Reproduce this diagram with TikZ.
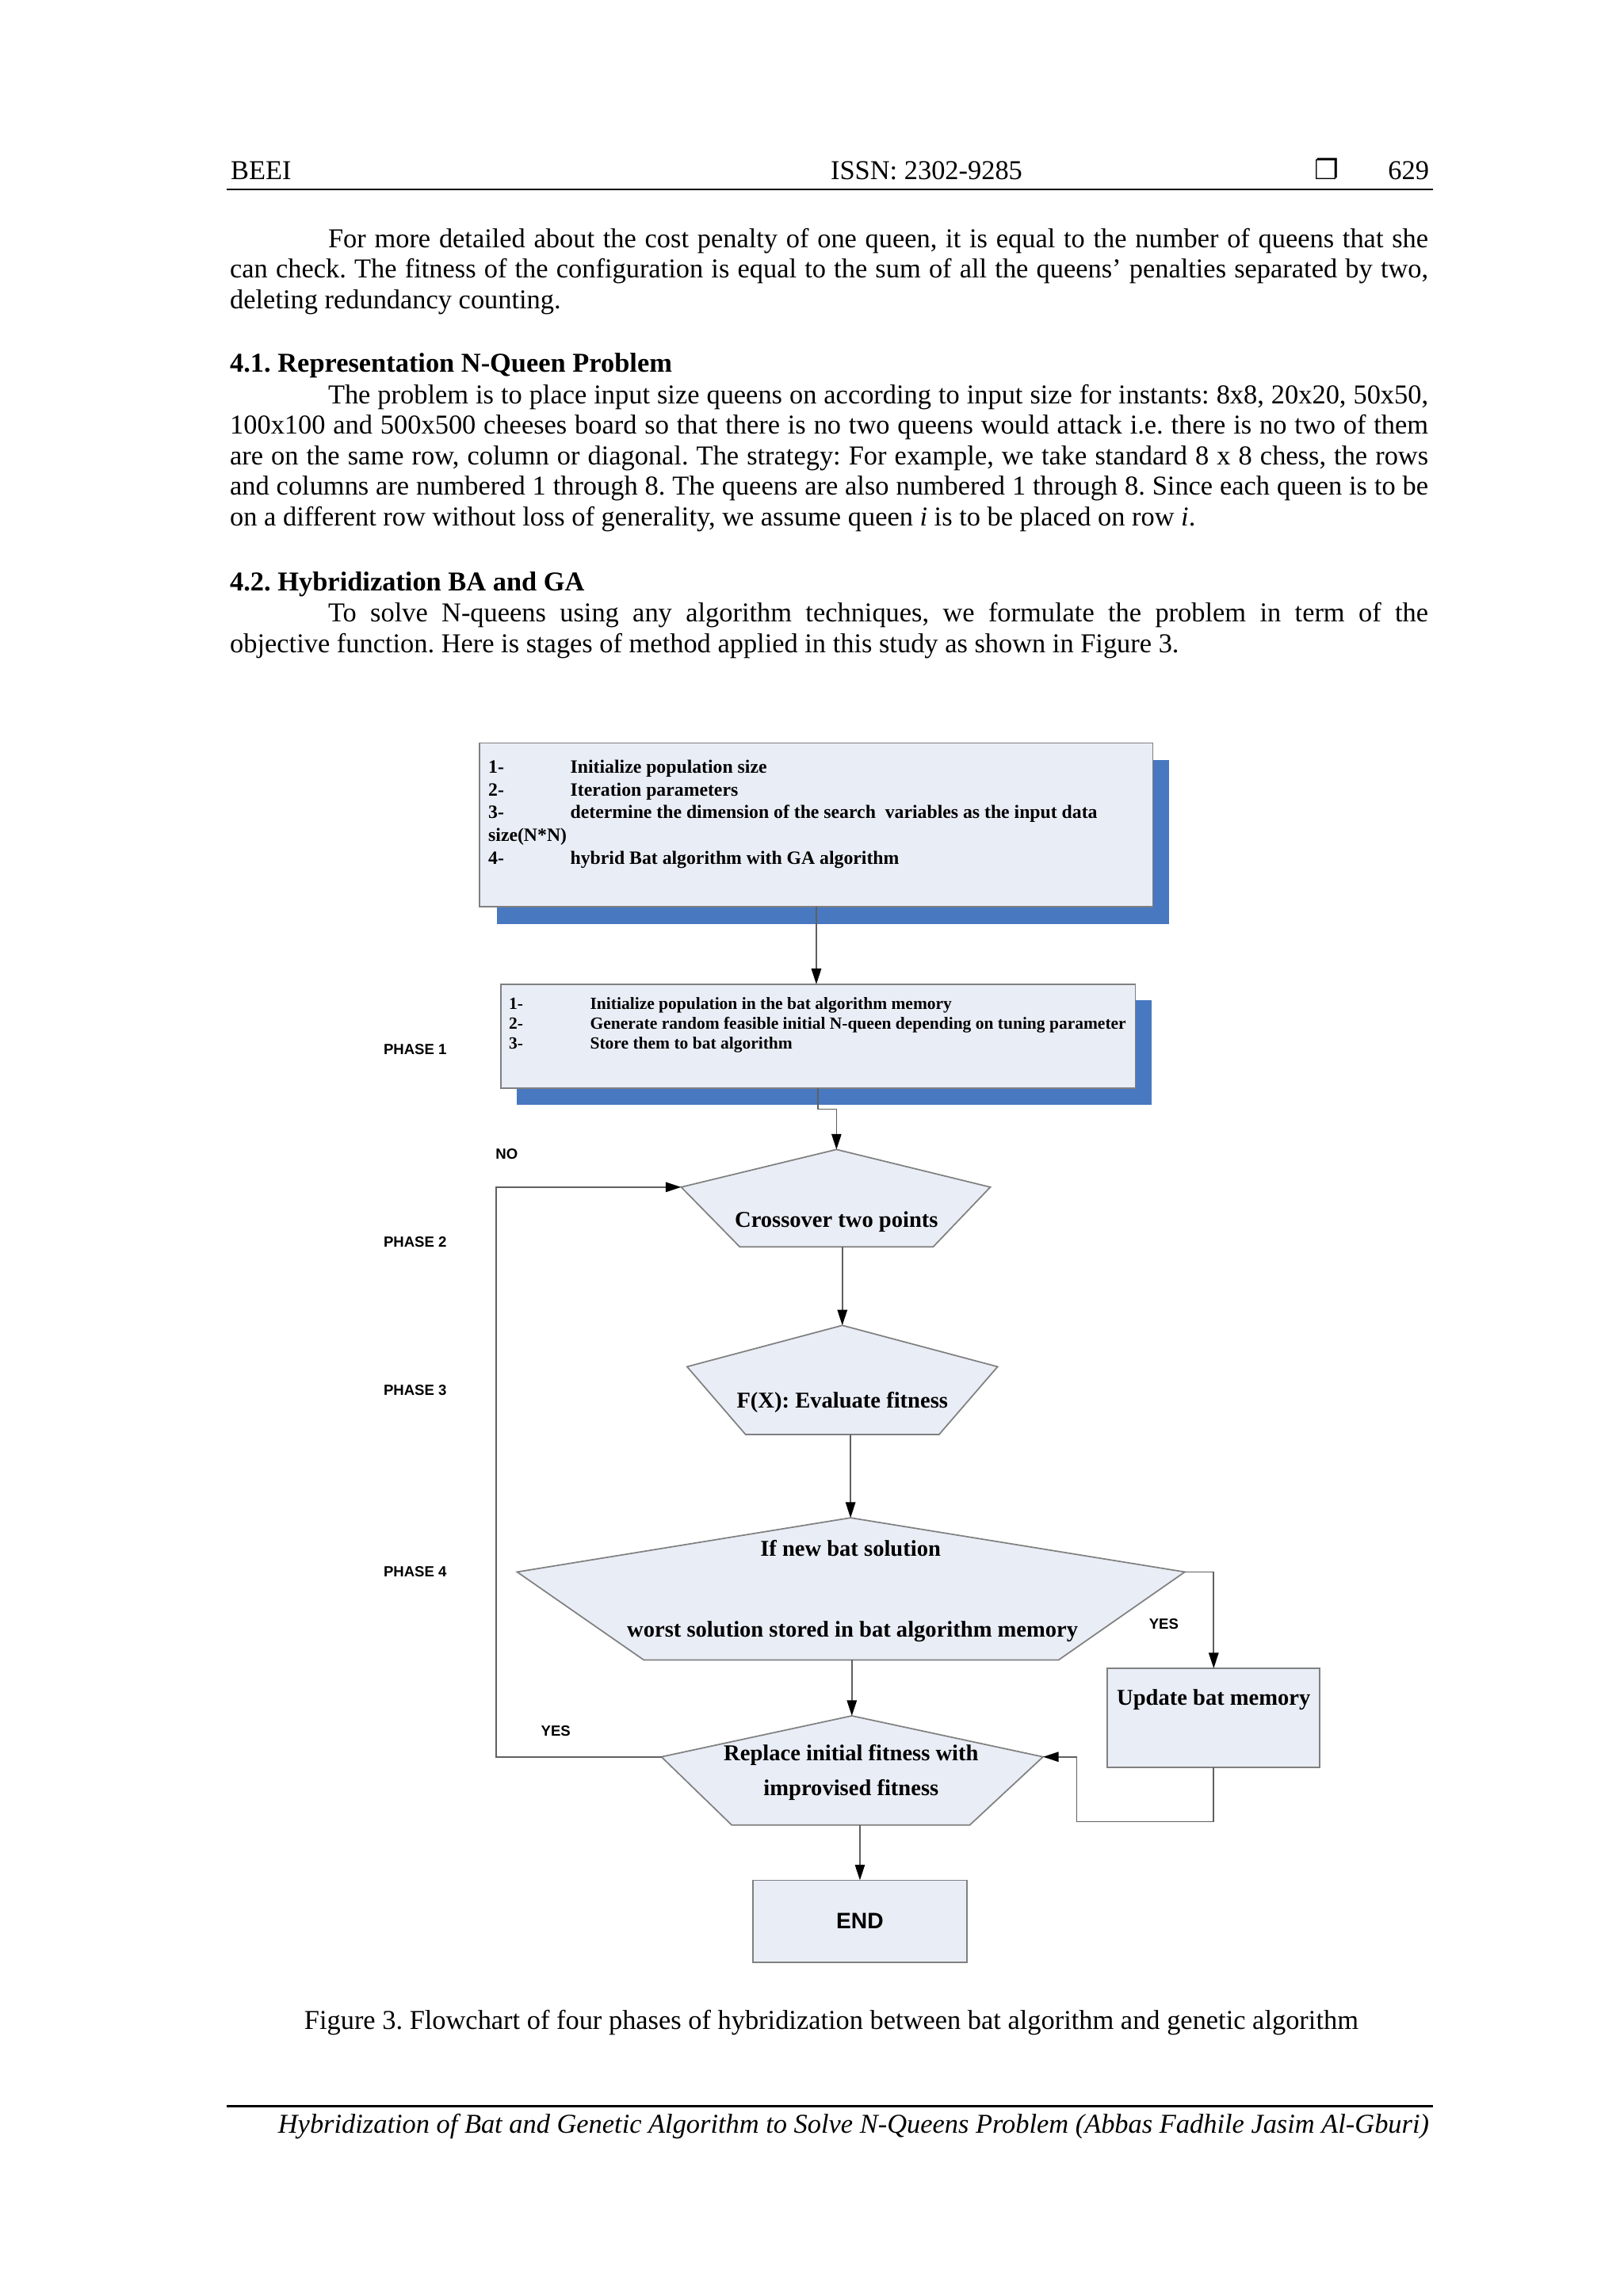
\documentclass[tikz,border=0pt]{standalone}
\usepackage{fontspec}
\setmainfont{Liberation Serif}
\setsansfont{Liberation Sans}
\newfontfamily\dejavu{DejaVu Sans}
\usetikzlibrary{arrows.meta}
\definecolor{boxfill}{RGB}{233,237,246}
\definecolor{shadowblue}{RGB}{72,120,192}
\definecolor{edgegray}{RGB}{128,128,128}
\definecolor{linegray}{RGB}{96,96,96}
\def\ux{0.53721pt}
\def\uy{0.54116pt}
\frenchspacing
\begin{document}
\begin{tikzpicture}[x=0.53721pt,y=-0.54116pt,
  txt/.style={inner sep=0pt,outer sep=0pt,anchor=base west,font=\fontsize{10}{11.2}\selectfont},
  boxnode/.style={draw=edgegray,line width=0.5pt,fill=boxfill,inner sep=0pt,outer sep=0pt,anchor=north west},
  pent/.style={draw=edgegray,line width=0.5pt,fill=boxfill},
  conn/.style={draw=linegray,line width=0.5pt,-{Triangle[length=5.7pt,width=3.6pt,color=black]}},
  ptext/.style={inner sep=0pt,anchor=base,font=\bfseries\fontsize{8.3}{10}\selectfont},
  lab/.style={inner sep=0pt,anchor=base west,font=\sffamily\bfseries\fontsize{5.4}{6}\selectfont},
  bonetext/.style={inner sep=0pt,anchor=base west,font=\bfseries\fontsize{6.9}{8}\selectfont},
  btwotext/.style={inner sep=0pt,anchor=base west,font=\bfseries\fontsize{6.25}{7}\selectfont}]
\useasboundingbox (0,0) rectangle (1108.1,1556);
\fill[white] (0,0) rectangle (1108.1,1556);

% ---------- header ----------
\node[txt] (hl) at (157.5,121.4) {BEEI};
\node[txt,anchor=base] (hc) at (632.5,121.4) {ISSN: 2302-9285};
\node[txt] (hs) at (897.5,121.4) {\dejavu ❐};
\node[txt,anchor=base east] (hr) at (975.5,121.4) {629};
\draw[line width=0.7pt] (155,128.4) -- (978,128.4);

% ---------- body text ----------
\node[txt] (p1a) at (224,167.6) {\makebox[403.44pt][s]{For more detailed about the cost penalty of one queen, it is equal to the number of queens that she}};
\node[txt] (p1b) at (157,188.3) {\makebox[439.44pt][s]{can check. The fitness of the configuration is equal to the sum of all the queens’ penalties separated by two,}};
\node[txt] (p1c) at (157,209.0) {deleting redundancy counting.};

\node[txt] (h41) at (157,252.4) {\bfseries 4.1. Representation N-Queen Problem};
\node[txt] (p2a) at (224,273.4) {\makebox[403.44pt][s]{The problem is to place input size queens on according to input size for instants: 8x8, 20x20, 50x50,}};
\node[txt] (p2b) at (157,294.1) {\makebox[439.44pt][s]{100x100 and 500x500 cheeses board so that there is no two queens would attack i.e. there is no two of them}};
\node[txt] (p2c) at (157,314.8) {\makebox[439.44pt][s]{are on the same row, column or diagonal. The strategy: For example, we take standard 8 x 8 chess, the rows}};
\node[txt] (p2d) at (157,335.5) {\makebox[439.44pt][s]{and columns are numbered 1 through 8. The queens are also numbered 1 through 8. Since each queen is to be}};
\node[txt] (p2e) at (157,356.2) {on a different row without loss of generality, we assume queen \textit{i} is to be placed on row \textit{i}.};

\node[txt] (h42) at (157,400.2) {\bfseries 4.2. Hybridization BA and GA};
\node[txt] (p3a) at (224,421.6) {\makebox[403.44pt][s]{To solve N-queens using any algorithm techniques, we formulate the problem in term of the}};
\node[txt] (p3b) at (157,442.3) {objective function. Here is stages of method applied in this study as shown in Figure 3.};

% ---------- flowchart: boxes ----------
\fill[shadowblue] (339.5,515) rectangle (798,626);
\node[boxnode,minimum width=459.5*\ux,minimum height=111*\uy] (b1) at (327.5,503.5) {};
\fill[shadowblue] (353,678) rectangle (786,748.6);
\node[boxnode,minimum width=433*\ux,minimum height=70.6*\uy] (b2) at (342,667) {};
\node[boxnode,minimum width=145*\ux,minimum height=67.2*\uy] (upb) at (756,1130.6) {};
\node[boxnode,minimum width=146*\ux,minimum height=55.7*\uy,font=\sffamily\bfseries\fontsize{8.2}{9}\selectfont] (endb) at (514,1274.2) {END};

% box 1 text
\node[bonetext] (t11n) at (333,524.0) {1-};
\node[bonetext] (t11) at (389,524.0) {Initialize population size};
\node[bonetext] (t12n) at (333,539.4) {2-};
\node[bonetext] (t12) at (389,539.4) {Iteration parameters};
\node[bonetext] (t13n) at (333,554.8) {3-};
\node[bonetext] (t13) at (389,554.8) {determine the dimension of the search\ \ variables as the input data};
\node[bonetext] (t13b) at (333,570.2) {size(N*N)};
\node[bonetext] (t14n) at (333,585.6) {4-};
\node[bonetext] (t14) at (389,585.6) {hybrid Bat algorithm with GA algorithm};

% box 2 text
\node[btwotext] (t21n) at (347,684.0) {1-};
\node[btwotext] (t21) at (402.5,684.0) {Initialize population in the bat algorithm memory};
\node[btwotext] (t22n) at (347,697.5) {2-};
\node[btwotext] (t22) at (402.5,697.5) {Generate random feasible initial N-queen depending on tuning parameter};
\node[btwotext] (t23n) at (347,711.0) {3-};
\node[btwotext] (t23) at (402.5,711.0) {Store them to bat algorithm};

% ---------- pentagons ----------
\coordinate (cA) at (571,779);   \coordinate (cR) at (676,804.5);
\coordinate (cBR) at (637,845);  \coordinate (cBL) at (505,845);
\coordinate (cL) at (465,804.5); \coordinate (cOut) at (575,845);
\draw[pent] (cA) -- (cR) -- (cBR) -- (cBL) -- (cL) -- cycle;

\coordinate (fA) at (575,898.2);  \coordinate (fR) at (681,926.2);
\coordinate (fBR) at (641,972.2); \coordinate (fBL) at (509,972.2);
\coordinate (fL) at (469,926.2);  \coordinate (fOut) at (580.6,972.2);
\draw[pent] (fA) -- (fR) -- (fBR) -- (fBL) -- (fL) -- cycle;

\coordinate (dA) at (580.6,1028.6); \coordinate (dR) at (808.8,1065.3);
\coordinate (dBR) at (722.7,1124.9); \coordinate (dBL) at (439.4,1124.9);
\coordinate (dL) at (353,1065.3);   \coordinate (dOut) at (581.5,1124.9);
\draw[pent] (dA) -- (dR) -- (dBR) -- (dBL) -- (dL) -- cycle;

\coordinate (rA) at (581.5,1162.8); \coordinate (rR) at (712,1190.6);
\coordinate (rBR) at (662,1236.8);  \coordinate (rBL) at (499.5,1236.8);
\coordinate (rL) at (451.5,1190.6); \coordinate (rOut) at (587,1236.8);
\draw[pent] (rA) -- (rR) -- (rBR) -- (rBL) -- (rL) -- cycle;

\node[ptext] (cT) at (571,831.6) {Crossover two points};
\node[ptext] (fT) at (575,954.3) {F(X): Evaluate fitness};
\node[ptext] (dT1) at (580.6,1054.5) {If new bat solution};
\node[ptext] (dT2) at (582,1109.5) {worst solution stored in bat algorithm memory};
\node[ptext] (rT1) at (581,1193.3) {Replace initial fitness with};
\node[ptext] (rT2) at (581,1216.6) {improvised fitness};
\node[ptext] (uT) at (828.5,1155.7) {Update bat memory};

% ---------- connectors ----------
\coordinate (e1) at (558.5,751.6);
\coordinate (k1) at (735,1234.5);
\coordinate (k2) at (338.5,1190.6);
\draw[conn] (b1.south) -- (b1.south |- b2.north);
\draw[conn] (b2.south) -- (e1) -| (cA);
\draw[conn] (cOut) -- (fA);
\draw[conn] (fOut) -- (dA);
\draw[conn] (dR) -| (upb.north);
\draw[conn] (dOut) -- (rA);
\draw[conn] (upb.south) |- (k1) |- (rR);
\draw[conn] (rL) -- (k2) |- (cL);
\draw[conn] (rOut) -- (endb.north);

% ---------- labels ----------
\node[lab] (ph1) at (261.5,714.4) {PHASE 1};
\node[lab] (ph2) at (261.5,845.0) {PHASE 2};
\node[lab] (ph3) at (261.5,945.7) {PHASE 3};
\node[lab] (ph4) at (261.5,1068.5) {PHASE 4};
\node[lab] (no) at (338,785.4) {NO};
\node[lab] (yes1) at (784,1103.8) {YES};
\node[lab] (yes2) at (369,1176.3) {YES};

% ---------- caption & footer ----------
\node[txt,anchor=base] (cap) at (567.5,1375) {Figure 3. Flowchart of four phases of hybridization between bat algorithm and genetic algorithm};
\draw[line width=0.7pt] (155,1427.4) -- (978,1427.4);
\node[txt,anchor=base east] (foot) at (975.5,1445.7) {\itshape Hybridization of Bat and Genetic Algorithm to Solve N-Queens Problem (Abbas Fadhile Jasim Al-Gburi)};
\end{tikzpicture}
\end{document}
